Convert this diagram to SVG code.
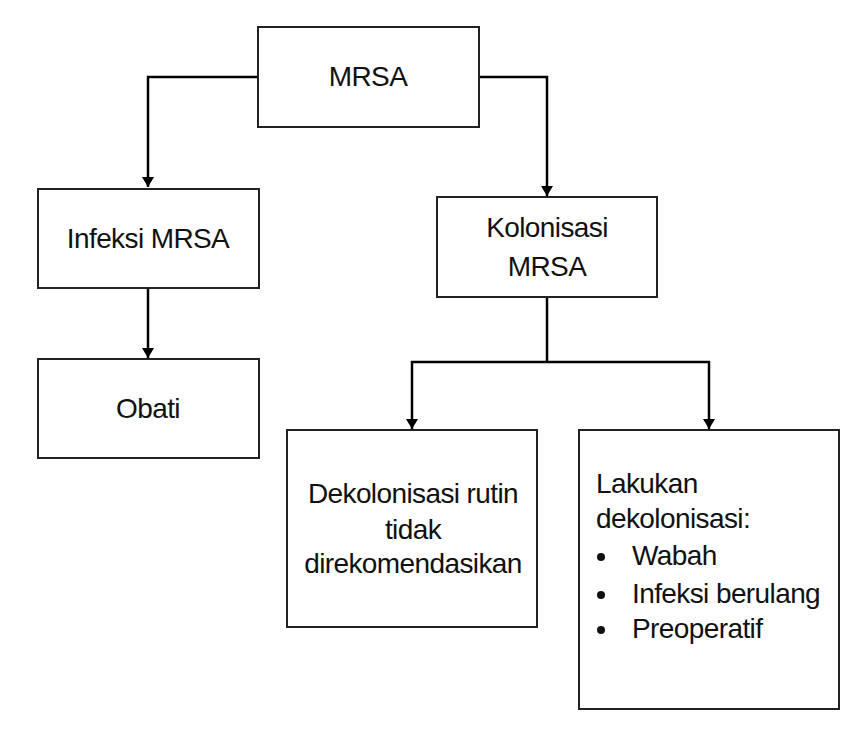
<svg xmlns="http://www.w3.org/2000/svg" width="864" height="745" viewBox="0 0 864 745">
<defs>
<marker id="ah" viewBox="0 0 10 12" refX="10" refY="6" markerWidth="10" markerHeight="12" markerUnits="userSpaceOnUse" orient="auto">
<path d="M0,0 L10,6 L0,12 Z" fill="#000"/>
</marker>
<style>
.box{fill:#fff;stroke:#222;stroke-width:2}
.t{font-family:"Liberation Sans",Arial,sans-serif;font-size:28px;fill:#111;letter-spacing:-0.6px}
.c{text-anchor:middle}
.ln{fill:none;stroke:#000;stroke-width:2.5}
</style>
</defs>
<rect width="864" height="745" fill="#fff"/>
<g id="connectors">
<path class="ln" d="M258,77 H148 V187" marker-end="url(#ah)"/>
<path class="ln" d="M479,77 H547 V196" marker-end="url(#ah)"/>
<path class="ln" d="M148,288 V358" marker-end="url(#ah)"/>
<path class="ln" d="M547,297 V362"/>
<path class="ln" d="M411,362 H710"/>
<path class="ln" d="M412,361 V429" marker-end="url(#ah)"/>
<path class="ln" d="M709,361 V429" marker-end="url(#ah)"/>
</g>
<g id="mrsa">
<rect class="box" x="258" y="27" width="221" height="100"/>
<text class="t c" x="368" y="86">MRSA</text>
</g>
<g id="infeksi">
<rect class="box" x="38" y="189" width="221" height="99"/>
<text class="t c" x="148" y="248">Infeksi MRSA</text>
</g>
<g id="obati">
<rect class="box" x="38" y="359" width="221" height="99"/>
<text class="t c" x="148" y="418">Obati</text>
</g>
<g id="kolonisasi">
<rect class="box" x="437" y="197" width="220" height="100"/>
<text class="t c" x="547" y="237">Kolonisasi</text>
<text class="t c" x="547" y="276">MRSA</text>
</g>
<g id="dekolonisasi">
<rect class="box" x="287" y="430" width="250" height="197"/>
<text class="t c" x="413" y="503">Dekolonisasi rutin</text>
<text class="t c" x="413" y="539">tidak</text>
<text class="t c" x="413" y="573">direkomendasikan</text>
</g>
<g id="lakukan">
<rect class="box" x="579" y="430" width="260" height="279"/>
<text class="t" x="596" y="493">Lakukan</text>
<text class="t" x="596" y="528">dekolonisasi:</text>
<circle cx="601" cy="557" r="4" fill="#111"/>
<text class="t" x="632" y="565">Wabah</text>
<circle cx="601" cy="595" r="4" fill="#111"/>
<text class="t" x="632" y="603">Infeksi berulang</text>
<circle cx="601" cy="630" r="4" fill="#111"/>
<text class="t" x="632" y="638">Preoperatif</text>
</g>
</svg>
